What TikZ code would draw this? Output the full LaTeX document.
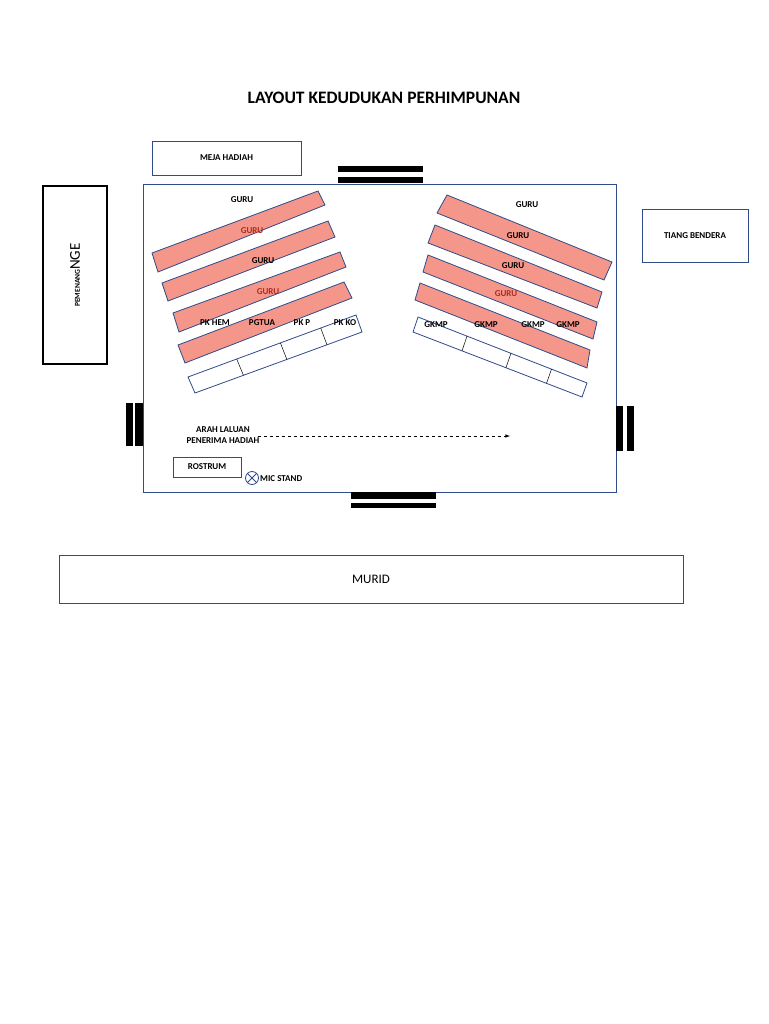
\documentclass[tikz,border=0pt]{standalone}
\usepackage{fontspec}
\setmainfont{Carlito}
\usetikzlibrary{calc}
\definecolor{bl}{HTML}{2F4B8A}
\definecolor{sal}{HTML}{F4968A}
\definecolor{rd}{HTML}{B02A1A}
\begin{document}
\begin{tikzpicture}[x=1pt,y=-1pt,
 bench/.style={draw=bl,fill=sal,line width=0.8pt},
 wrow/.style={draw=bl,fill=white,line width=0.8pt},
 lbl/.style={font=\bfseries\fontsize{9}{9}\selectfont,inner sep=0pt},
 rlbl/.style={lbl,text=rd},
 bar/.style={fill=black}]
\path[use as bounding box] (0,0) rectangle (768,1024);
\node[font=\bfseries\fontsize{17.5}{19}\selectfont] (title) at (384,98) {LAYOUT KEDUDUKAN PERHIMPUNAN};
\draw[draw=bl,line width=0.8pt] (143,184) rectangle (616,492);
\node[draw=bl,line width=0.8pt,minimum width=149pt,minimum height=34pt,lbl] (meja) at (226.5,158) {MEJA HADIAH};
\fill[bar] (338,166) rectangle (423,172);
\fill[bar] (338,177) rectangle (423,183);
\fill[bar] (351,492) rectangle (436,499);
\fill[bar] (351,503) rectangle (436,508);
\fill[bar] (126,403) rectangle (133,446);
\fill[bar] (135,403) rectangle (143,446);
\fill[bar] (616,406) rectangle (623,451);
\fill[bar] (627,406) rectangle (634,451);
\draw[line width=1.3pt] (43,186) rectangle (107,364);
\node[rotate=90,inner sep=0pt] (pem) at (75,275) {\bfseries\fontsize{7.5}{7.5}\selectfont PEMENANG\fontsize{15}{15}\selectfont\mdseries NGE};
\node[draw=bl,line width=1pt,minimum width=106pt,minimum height=52pt,lbl] (tiang) at (695,236) {TIANG BENDERA};
\node[draw=bl,line width=0.8pt,minimum width=624pt,minimum height=48pt,font=\fontsize{13}{13}\selectfont] (murid) at (371,579) {MURID};
% left benches
\draw[bench] (152,253)--(318,191)--(325,205)--(158,272)--cycle;
\draw[bench] (162,283)--(328,221)--(335,237)--(168,301)--cycle;
\draw[bench] (173,313)--(340,252)--(346,267)--(179,332)--cycle;
\draw[bench] (178,345)--(344,282)--(352,298)--(185,363)--cycle;
\coordinate (la) at (188,377); \coordinate (lb) at (356,315);
\coordinate (lc) at (362,332); \coordinate (ld) at (195,393);
\draw[wrow] (la)--(lb)--(lc)--(ld)--cycle;
\foreach \t in {0.29,0.55,0.79}{\draw[line width=0.5pt] ($(la)!\t!(lb)$)--($(ld)!\t!(lc)$);}
% right benches
\draw[bench] (437,213)--(447,195)--(612,262)--(604,280)--cycle;
\draw[bench] (428,243)--(435,225)--(602,292)--(597,308)--cycle;
\draw[bench] (423,272)--(428,255)--(597,322)--(593,339)--cycle;
\draw[bench] (415,300)--(420,283)--(590,350)--(587,368)--cycle;
\coordinate (ra) at (418,317); \coordinate (rb) at (587,383);
\coordinate (rc) at (582,397); \coordinate (rd) at (413,332);
\draw[wrow] (ra)--(rb)--(rc)--(rd)--cycle;
\foreach \t in {0.29,0.55,0.79}{\draw[line width=0.5pt] ($(ra)!\t!(rb)$)--($(rd)!\t!(rc)$);}
% labels
\node[lbl] (g1) at (242,200) {GURU};
\node[rlbl] (g2) at (252,231) {GURU};
\node[lbl] (g3) at (263,261) {GURU};
\node[rlbl] (g4) at (268,292) {GURU};
\node[lbl] (p1) at (215,323) {PK HEM};
\node[lbl] (p2) at (262,323) {PGTUA};
\node[lbl] (p3) at (302,323) {PK P};
\node[lbl] (p4) at (345,323) {PK KO};
\node[lbl] (h1) at (527,205) {GURU};
\node[lbl] (h2) at (518,236) {GURU};
\node[lbl] (h3) at (513,266) {GURU};
\node[rlbl] (h4) at (506,294) {GURU};
\node[lbl] (k1) at (436,325) {GKMP};
\node[lbl] (k2) at (486,325) {GKMP};
\node[lbl] (k3) at (533,325) {GKMP};
\node[lbl] (k4) at (568,325) {GKMP};
% path
\node[lbl,align=center,font=\bfseries\fontsize{9}{11.5}\selectfont] (arah) at (223,435) {ARAH LALUAN\\PENERIMA HADIAH};
\coordinate (aend) at (510,436);
\draw[dashed,-latex,line width=0.6pt] (258,436) -- (aend);
\node[draw=bl,line width=0.8pt,minimum width=68pt,minimum height=20pt,lbl] (ros) at (207,467) {ROSTRUM};
\node[draw=bl,circle,line width=0.8pt,minimum size=13pt,inner sep=0pt] (mic) at (252,478) {};
\draw[bl,line width=0.8pt] (mic.north west)--(mic.south east) (mic.north east)--(mic.south west);
\node[lbl,anchor=west] (micl) at (260,479) {MIC STAND};
\end{tikzpicture}
\end{document}
